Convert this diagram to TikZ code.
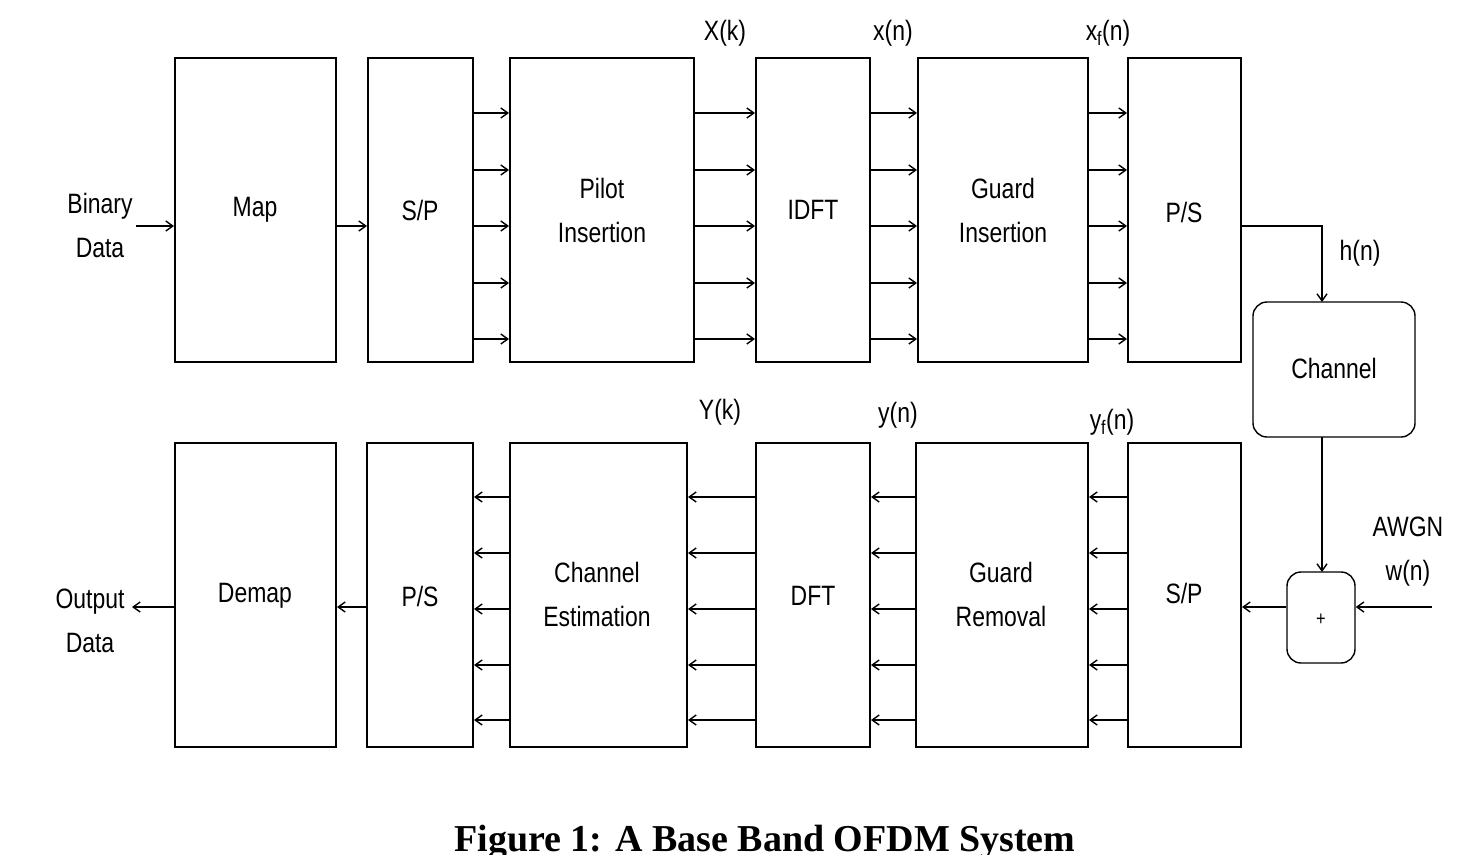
\documentclass[tikz,border=0pt]{standalone}
\usepackage{fontspec}
\setsansfont[FakeStretch=0.82]{Liberation Sans}
\setmainfont{Liberation Serif}
\usetikzlibrary{fit,arrows.meta}
\begin{document}
\begin{tikzpicture}[x=1pt,y=-1pt,
  blk/.style={draw,line width=2pt,inner sep=0pt},
  rblk/.style={blk,rounded corners=14pt,line width=1.4pt},
  lab/.style={font=\sffamily\fontsize{28}{44}\selectfont,align=center,inner sep=1pt},
  arr/.style={-{Straight Barb[length=7pt,width=10pt]},line width=1.4pt}]
\useasboundingbox (0,0) rectangle (1471,854);
% top row
\node[blk,fit={(175,58)(336,362)}] (map) {};
\node[blk,fit={(368,58)(473,362)}] (sp1) {};
\node[blk,fit={(510,58)(694,362)}] (pil) {};
\node[blk,fit={(756,58)(870,362)}] (idft) {};
\node[blk,fit={(918,58)(1088,362)}] (gi) {};
\node[blk,fit={(1128,58)(1241,362)}] (ps1) {};
% bottom row
\node[blk,fit={(175,443)(336,747)}] (dem) {};
\node[blk,fit={(367,443)(473,747)}] (ps2) {};
\node[blk,fit={(510,443)(687,747)}] (che) {};
\node[blk,fit={(756,443)(870,747)}] (dft) {};
\node[blk,fit={(916,443)(1088,747)}] (gr) {};
\node[blk,fit={(1128,443)(1241,747)}] (sp2) {};
\node[rblk,fit={(1253,302)(1415,437)}] (ch) {};
\node[rblk,fit={(1287,572)(1355,663)}] (plus) {};
% box texts
\node[lab] (tmap) at (255,210) {Map};
\node[lab] (tsp1) at (420,210) {S/P};
\node[lab] (tpil) at (602,210) {Pilot\\Insertion};
\node[lab] (tidft) at (813,210) {IDFT};
\node[lab] (tgi) at (1003,210) {Guard\\Insertion};
\node[lab] (tps1) at (1184,212) {P/S};
\node[lab] (tdem) at (255,596) {Demap};
\node[lab] (tps2) at (420,596) {P/S};
\node[lab] (tche) at (597,594) {Channel\\Estimation};
\node[lab] (tdft) at (813,596) {DFT};
\node[lab] (tgr) at (1001,594) {Guard\\Removal};
\node[lab] (tsp2) at (1184,593) {S/P};
\node[lab] (tch) at (1334,368) {Channel};
\node[lab,font=\sffamily\fontsize{20}{24}\selectfont] (tplus) at (1321,620) {+};
% labels
\node[lab] (bin) at (100,225) {Binary\\Data};
\node[lab] (out) at (90,621) {Output\\Data};
\node[lab] (Xk) at (725,33) {X(k)};
\node[lab] (xn) at (893,33) {x(n)};
\node[lab] (xf) at (1108,33) {x\textsubscript{f}(n)};
\node[lab] (Yk) at (720,412) {Y(k)};
\node[lab] (yn) at (898,415) {y(n)};
\node[lab] (yf) at (1112,422) {y\textsubscript{f}(n)};
\node[lab] (hn) at (1360,253) {h(n)};
\node[lab] (awgn) at (1408,552) {AWGN\\w(n)};
\coordinate (win) at (1432,607);
\node[font=\bfseries\fontsize{38}{42}\selectfont] (cap) at (765,842) {Figure 1: A Base Band OFDM System};
% connectors top
\draw[arr] (136,226) -- (map.west |- 0,226);
\draw[arr] (map.east |- 0,226) -- (sp1.west |- 0,226);
\foreach \y in {113,170,226,283,339}{
  \draw[arr] (sp1.east |- 0,\y) -- (pil.west |- 0,\y);
  \draw[arr] (pil.east |- 0,\y) -- (idft.west |- 0,\y);
  \draw[arr] (idft.east |- 0,\y) -- (gi.west |- 0,\y);
  \draw[arr] (gi.east |- 0,\y) -- (ps1.west |- 0,\y);
}
\coordinate (chin) at (1322,302);
\coordinate (chout) at (1322,437);
\coordinate (pin) at (1322,572);
\draw[arr] (ps1.east |- 0,226) -| (chin);
\draw[arr] (chout) -- (pin);
\draw[arr] (win) -- (plus.east |- win);
\draw[arr] (plus.west |- 0,607) -- (sp2.east |- 0,607);
\foreach \y in {497,553,609,665,720}{
  \draw[arr] (sp2.west |- 0,\y) -- (gr.east |- 0,\y);
  \draw[arr] (gr.west |- 0,\y) -- (dft.east |- 0,\y);
  \draw[arr] (dft.west |- 0,\y) -- (che.east |- 0,\y);
  \draw[arr] (che.west |- 0,\y) -- (ps2.east |- 0,\y);
}
\draw[arr] (ps2.west |- 0,607) -- (dem.east |- 0,607);
\draw[arr] (dem.west |- 0,607) -- (132,607);
\end{tikzpicture}
\end{document}
